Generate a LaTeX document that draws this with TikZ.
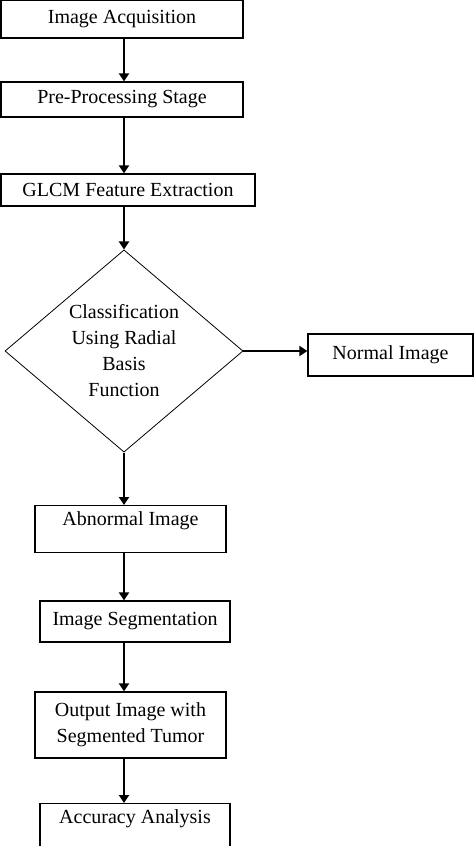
\documentclass[tikz,border=0pt]{standalone}
\usepackage{fontspec}
\setmainfont{Liberation Serif}
\usetikzlibrary{shapes.geometric,arrows.meta}

\begin{document}
\begin{tikzpicture}[x=1pt,y=-1pt,
                box/.style={draw,line width=1.2pt,inner sep=0pt,align=center,font=\fontsize{20}{26}\selectfont},
                flow/.style={line width=2.4pt,-{Triangle[width=10pt,length=8pt]}}]
                \useasboundingbox (0,0) rectangle (474,846);
                \coordinate (col) at (124,0);
                \node[box,minimum width=242pt,minimum height=38pt] (acq) at (122,19) {Image Acquisition};
                \node[box,minimum width=242pt,minimum height=35pt] (pre) at (122,99.5) {Pre-Processing Stage};
                \node[box,minimum width=254pt,minimum height=32pt] (glcm) at (128,190) {GLCM Feature Extraction};
                \node[box,diamond,line width=0.8pt,minimum width=238pt,minimum height=202pt] (cls) at (124,351) {Classification\\Using Radial\\Basis\\Function};
                \node[box,minimum width=165pt,minimum height=42pt] (norm) at (390.5,355) {Normal Image};
                \node[box,minimum width=191pt,text height=20pt,text depth=27pt,anchor=north] (abn) at (130.5,505) {Abnormal Image};
                \node[box,minimum width=190pt,minimum height=41pt] (seg) at (135,621.5) {Image Segmentation};
                \node[box,minimum width=191pt,minimum height=66pt] (out) at (130.5,725) {Output Image with\\Segmented Tumor};
                \node[box,minimum width=190pt,text height=20pt,text depth=40pt,anchor=north] (acc) at (135,803) {Accuracy Analysis};
                \draw[flow] (acq.south -| col) -- (pre.north -| col);
                \draw[flow] (pre.south -| col) -- (glcm.north -| col);
                \draw[flow] (glcm.south -| col) -- (cls.north);
                \draw[flow] (cls.east) -- (norm.west |- cls.east);
                \draw[flow] (cls.south) -- (abn.north -| col);
                \draw[flow] (abn.south -| col) -- (seg.north -| col);
                \draw[flow] (seg.south -| col) -- (out.north -| col);
                \draw[flow] (out.south -| col) -- (acc.north -| col);
            \end{tikzpicture}
\end{document}
